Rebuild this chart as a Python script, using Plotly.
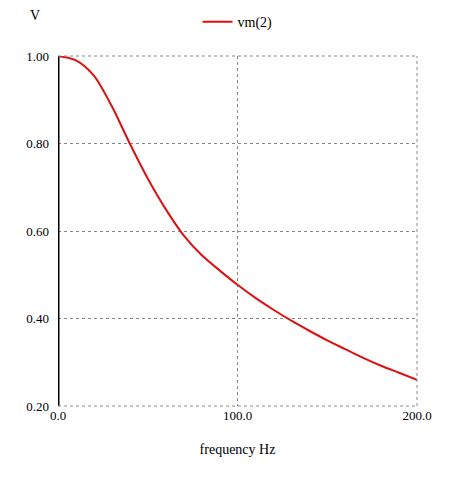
import plotly.graph_objects as go

freq = [0, 10, 20, 30, 40, 50, 60, 70, 80, 90, 100, 110, 120, 130, 140, 150, 160, 170, 180, 190, 200]
vm2 = [1.0, 0.99, 0.955, 0.885, 0.80, 0.72, 0.65, 0.59, 0.545, 0.51, 0.477, 0.447, 0.42, 0.395, 0.372, 0.35, 0.33, 0.31, 0.292, 0.276, 0.26]
xticks = [0, 100, 200]
xlabels = ["0.0", "100.0", "200.0"]
yticks = [0.2, 0.4, 0.6, 0.8, 1.0]
ylabels = ["0.20", "0.40", "0.60", "0.80", "1.00"]

fig = go.Figure()
fig.add_trace(go.Scatter(x=freq, y=vm2, mode="lines", name="vm(2)",
                         line=dict(color="#dd1111", width=2, shape="spline", smoothing=0.8)))
fig.add_trace(go.Scatter(x=[0, 0], y=[0.2, 1.0], mode="lines", showlegend=False,
                         line=dict(color="black", width=3)))

axis_common = dict(showgrid=True, gridcolor="#888", griddash="dot", gridwidth=1,
                   zeroline=False, showline=False, ticks="",
                   tickfont=dict(family="Liberation Serif", size=13, color="black"))
fig.update_xaxes(range=[0, 200], tickvals=xticks, ticktext=xlabels,
                 title=dict(text="frequency Hz", font=dict(family="Liberation Serif", size=14, color="black"), standoff=22),
                 **axis_common)
fig.update_yaxes(range=[0.2, 1.0], tickvals=yticks, ticktext=ylabels, ticklabelstandoff=8, **axis_common)
for x0, x1, y0, y1 in [(0, 1, 1, 1), (1, 1, 0, 1), (0, 1, 0, 0)]:
    fig.add_shape(type="line", xref="paper", yref="paper", x0=x0, x1=x1, y0=y0, y1=y1,
                  line=dict(color="#888", dash="dot", width=1))
fig.add_annotation(text="V", xref="paper", yref="paper", x=-0.065, y=1.115, showarrow=False,
                   xanchor="center", yanchor="middle",
                   font=dict(family="Liberation Serif", size=14, color="black"))

fig.update_layout(width=474, height=481, plot_bgcolor="white", paper_bgcolor="white",
                  margin=dict(l=50, r=65, t=48, b=83, autoexpand=False),
                  legend=dict(orientation="h", x=0.5, xanchor="center", y=1.097, yanchor="middle",
                              font=dict(family="Liberation Serif", size=14, color="black")))
fig.write_html("out.html")
